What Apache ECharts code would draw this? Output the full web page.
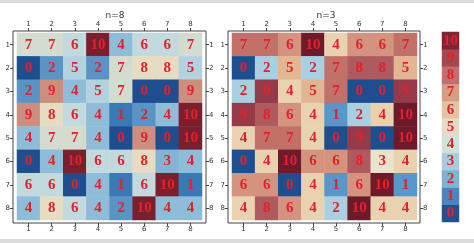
<!DOCTYPE html>
<html><head><meta charset="utf-8">
<script src="https://cdn.jsdelivr.net/npm/echarts@6/dist/echarts.min.js"></script>
<style>html,body{margin:0;padding:0;background:#fff}#c{width:474px;height:243px}</style>
</head><body><div id="c"></div>
<script>
// ---- data ----
const xLabels = ['1','2','3','4','5','6','7','8'];
const yLabels = ['1','2','3','4','5','6','7','8'];
const row1 = [7, 7, 6, 10, 4, 6, 6, 7];
const row2 = [0, 2, 5, 2, 7, 8, 8, 5];
const row3 = [2, 9, 4, 5, 7, 0, 0, 9];
const row4 = [9, 8, 6, 4, 1, 2, 4, 10];
const row5 = [4, 7, 7, 4, 0, 9, 0, 10];
const row6 = [0, 4, 10, 6, 6, 8, 3, 4];
const row7 = [6, 6, 0, 4, 1, 6, 10, 1];
const row8 = [4, 8, 6, 4, 2, 10, 4, 4];
const legendLevels = ['0','1','2','3','4','5','6','7','8','9','10'];
const panelTitles = ['n=8', 'n=3'];

// ---- palettes (styles) ----
const leftColors  = ['#1f4e8f','#3a79b6','#5b93c4','#84b3d4','#8fbcd8','#b3d2e0','#c2dade','#d3dccf','#e6dcc2','#cc8e7e','#7a1f2e'];
const rightColors = ['#1f4e8f','#5797cc','#a9cfe0','#ebe2cc','#e9d2b0','#e2b693','#d3937e','#c17168','#af5a5e','#953a48','#6d1a2b'];
const barColors   = ['#24508f','#4a86c0','#7fb2d5','#a9cbe0','#d2e1da','#e6dcc6','#e4c3a2','#d59d86','#c46f6f','#a8474f','#7f2535'];

const rows = [row1,row2,row3,row4,row5,row6,row7,row8];
const cells = [];
rows.forEach((r, yi) => r.forEach((v, xi) => cells.push([xi, yi, v])));
const barCells = legendLevels.map((l, i) => [0, i, Number(l)]);

const labelStyle = {
  show: true, formatter: p => String(p.value[2]),
  color: '#e3202c', fontFamily: 'Liberation Serif', fontWeight: 'bold', fontSize: 15
};
const tickLbl = { fontSize: 7, color: '#333', fontFamily: 'DejaVu Sans', margin: 3 };
const tick = { show: true, length: 3, lineStyle: { color: '#444' } };

function panelAxes(g, offs) {
  return {
    x: [
      { type:'category', gridIndex:g, data:xLabels, position:'top', offset:offs.top, axisLine:{show:false}, axisTick:Object.assign({alignWithLabel:true},tick), axisLabel:tickLbl },
      { type:'category', gridIndex:g, data:xLabels, position:'bottom', offset:offs.bottom, axisLine:{show:false}, axisTick:Object.assign({alignWithLabel:true},tick), axisLabel:tickLbl }
    ],
    y: [
      { type:'category', gridIndex:g, data:yLabels, inverse:true, position:'left', offset:offs.left, axisLine:{show:false}, axisTick:Object.assign({alignWithLabel:true},tick), axisLabel:tickLbl },
      { type:'category', gridIndex:g, data:yLabels, inverse:true, position:'right', offset:offs.right, axisLine:{show:false}, axisTick:Object.assign({alignWithLabel:true},tick), axisLabel:tickLbl }
    ]
  };
}
const A0 = panelAxes(0, {top:2, bottom:3, left:4, right:4});
const A1 = panelAxes(1, {top:2, bottom:3, left:4, right:3});

const chart = echarts.init(document.getElementById('c'), null, {renderer:'canvas'});
chart.setOption({
  backgroundColor: '#fff',
  animation: false,
  title: [
    { text: panelTitles[0], left: 110, top: 6, textAlign: 'center', textStyle: { fontSize: 9, fontWeight: 'normal', color: '#333', fontFamily: 'DejaVu Sans' } },
    { text: panelTitles[1], left: 321, top: 6, textAlign: 'center', textStyle: { fontSize: 9, fontWeight: 'normal', color: '#333', fontFamily: 'DejaVu Sans' } }
  ],
  grid: [
    { left: 17, top: 33, width: 185, height: 187 },
    { left: 232, top: 33, width: 185, height: 187 },
    { left: 442, top: 32, width: 17, height: 190 },
    { left: 13, top: 31, width: 193, height: 192, show: true, borderColor: '#444', borderWidth: 1, backgroundColor: 'transparent' },
    { left: 228, top: 31, width: 192, height: 192, show: true, borderColor: '#444', borderWidth: 1, backgroundColor: 'transparent' }
  ],
  xAxis: [
    A0.x[0], A0.x[1], A1.x[0], A1.x[1],
    { type:'category', gridIndex:2, data:[''], show:false },
    { type:'value', gridIndex:3, show:false },
    { type:'value', gridIndex:4, show:false }
  ],
  yAxis: [
    A0.y[0], A0.y[1], A1.y[0], A1.y[1],
    { type:'category', gridIndex:2, data:legendLevels, show:false },
    { type:'value', gridIndex:3, show:false },
    { type:'value', gridIndex:4, show:false }
  ],
  visualMap: [
    { type:'piecewise', show:false, seriesIndex:0, dimension:2, pieces: leftColors.map((c,i)=>({value:i, color:c})) },
    { type:'piecewise', show:false, seriesIndex:1, dimension:2, pieces: rightColors.map((c,i)=>({value:i, color:c})) },
    { type:'piecewise', show:false, seriesIndex:2, dimension:2, pieces: barColors.map((c,i)=>({value:i, color:c})) }
  ],
  graphic: [
    { type:'rect', shape:{x:0,y:0,width:474,height:3}, style:{fill:'#dcdcdc'}, silent:true },
    { type:'rect', shape:{x:0,y:239,width:474,height:4}, style:{fill:'#dcdcdc'}, silent:true }
  ],
  series: [
    { type:'heatmap', xAxisIndex:0, yAxisIndex:0, data:cells, label:labelStyle },
    { type:'heatmap', xAxisIndex:2, yAxisIndex:2, data:cells, label:labelStyle },
    { type:'heatmap', xAxisIndex:4, yAxisIndex:4, data:barCells, label:labelStyle }
  ]
});
</script></body></html>
